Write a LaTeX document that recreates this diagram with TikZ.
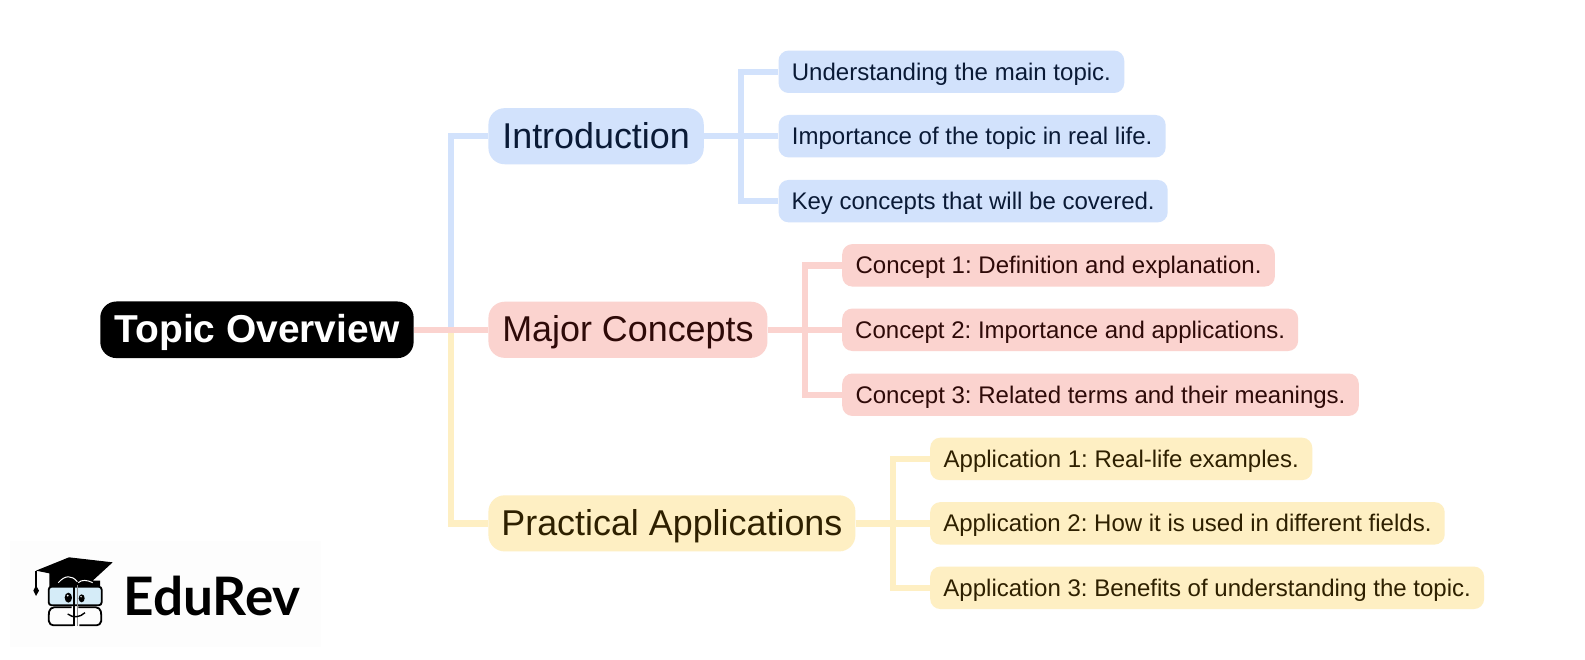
\documentclass[tikz,border=0pt]{standalone}
\usepackage{fontspec}
\setmainfont{Liberation Sans}
\newfontfamily\logofont{Lato}
\definecolor{bluebox}{HTML}{D2E2FC}
\definecolor{pinkbox}{HTML}{FBD3CF}
\definecolor{yellowbox}{HTML}{FEEFC3}
\definecolor{bluetext}{HTML}{0A1A36}
\definecolor{pinktext}{HTML}{2E0A08}
\definecolor{yellowtext}{HTML}{2E2000}
\definecolor{lens}{HTML}{D5ECF8}
\definecolor{logobg}{HTML}{FDFDFD}
\tikzset{
  anybox/.style={anchor=west,align=center,inner ysep=0pt,inner xsep=0pt},
  small/.style={anybox,rounded corners=10pt,minimum height=42pt,text height=18.5pt,text depth=1.5pt,
     font=\frenchspacing\fontsize{23.76}{26}\selectfont},
  large/.style={anybox,rounded corners=16pt,minimum height=55.5pt,text height=27pt,text depth=3pt,
     font=\fontsize{35.5}{38}\selectfont},
  rootbox/.style={anybox,fill=black,text=white,rounded corners=16pt,minimum height=56pt,text height=29pt,text depth=3pt,
     font=\bfseries\fontsize{38.5}{40}\selectfont},
  blueb/.style={fill=bluebox,text=bluetext},
  pinkb/.style={fill=pinkbox,text=pinktext},
  yellowb/.style={fill=yellowbox,text=yellowtext},
  link/.style={line width=6.4pt},
  bluel/.style={link,draw=bluebox},
  pinkl/.style={link,draw=pinkbox},
  yellowl/.style={link,draw=yellowbox},
}
\begin{document}
\begin{tikzpicture}[x=1pt,y=-1pt]
\useasboundingbox (0,0) rectangle (1568,652);
\fill[white] (0,0) rectangle (1568,652);
% nodes
\node[rootbox,minimum width=310pt] (root) at (99,326.25) {Topic Overview};
\node[large,blueb,minimum width=213pt] (intro) at (483,134.75) {Introduction};
\node[large,pinkb,minimum width=276pt] (major) at (483,326.25) {Major Concepts};
\node[large,yellowb,minimum width=363pt] (prac) at (483,517.75) {Practical Applications};
\node[small,blueb,minimum width=342pt] (i1) at (770,71) {Understanding the main topic.};
\node[small,blueb,minimum width=383pt] (i2) at (770,134.75) {Importance of the topic in real life.};
\node[small,blueb,minimum width=385pt] (i3) at (770,199) {Key concepts that will be covered.};
\node[small,pinkb,minimum width=428pt] (c1) at (833,262.5) {Concept 1: Definition and explanation.};
\node[small,pinkb,minimum width=451pt] (c2) at (833,326.25) {Concept 2: Importance and applications.};
\node[small,pinkb,minimum width=511pt] (c3) at (833,390.5) {Concept 3: Related terms and their meanings.};
\node[small,yellowb,minimum width=378pt] (a1) at (920,454) {Application 1: Real-life examples.};
\node[small,yellowb,minimum width=509pt] (a2) at (920,517.75) {Application 2: How it is used in different fields.};
\node[small,yellowb,minimum width=548pt] (a3) at (920,581.5) {Application 3: Benefits of understanding the topic.};
% junctions
\coordinate (jroot) at (446,326.25);
\coordinate (ji) at (733,134.75);
\coordinate (jc) at (796.5,326.25);
\coordinate (ja) at (883.5,517.75);
% connectors
\draw[bluel] (root.east) -- (jroot) |- (intro.west);
\draw[yellowl] (root.east) -- (jroot) |- (prac.west);
\draw[pinkl] (root.east) -- (major.west);
\draw[bluel] (ji) |- (i1.west);
\draw[bluel] (ji) |- (i3.west);
\draw[bluel] (intro.east) -- (i2.west);
\draw[pinkl] (jc) |- (c1.west);
\draw[pinkl] (jc) |- (c3.west);
\draw[pinkl] (major.east) -- (c2.west);
\draw[yellowl] (ja) |- (a1.west);
\draw[yellowl] (ja) |- (a3.west);
\draw[yellowl] (prac.east) -- (a2.west);
% logo
\fill[logobg] (10,535) rectangle (318,640);
\begin{scope}[shift={(0,524.3)},x=.3298pt,y=-.3298pt]
  \fill[black] (108,122) -- (207,82) -- (338,97) -- (278,152) -- (300,152) -- (300,172) -- (148,172) -- (148,130) -- cycle;
  \draw[white,line width=1pt] (175,158) .. controls (195,135) and (215,135) .. (232,155);
  \draw[white,line width=1pt] (235,158) .. controls (245,148) and (262,150) .. (278,158);
  \draw[black,line width=1.5pt] (108,122) -- (108,170);
  \fill[black] (108,166) -- (117,182) -- (108,198) -- (100,182) -- cycle;
  \draw[black,line width=1.8pt,fill=lens,rounded corners=3pt] (146,170) rectangle (305,226);
  \draw[black,line width=1.8pt,rounded corners=4pt] (215,232) -- (150,232) -- (145,258) -- (148,286) -- (220,286);
  \draw[black,line width=1.8pt,rounded corners=4pt] (235,232) -- (300,232) -- (305,258) -- (302,286) -- (238,286);
  \draw[black,line width=1.8pt] (222,165) -- (222,288);
  \draw[black!45,line width=1pt] (232,165) -- (232,288);
  \fill[black] (205,203) ellipse [x radius=11,y radius=15];
  \fill[black] (245,205) ellipse [x radius=9,y radius=12];
  \fill[white] (203,197) circle (3);
  \fill[white] (243,200) circle (2.5);
  \draw[black,line width=1.4pt] (203,252) .. controls (220,265) and (240,262) .. (255,248);
  \node[anchor=west,inner sep=0pt,font=\logofont\bfseries\fontsize{52.5}{55}\selectfont,text=black] (logo) at (370,198) {EduRev};
\end{scope}
\end{tikzpicture}
\end{document}
